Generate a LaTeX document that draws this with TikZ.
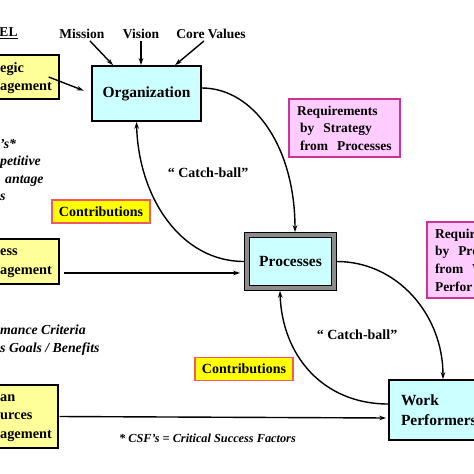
\documentclass[tikz,border=0pt]{standalone}
\usepackage{fontspec}
\setmainfont{Liberation Serif}
\usetikzlibrary{arrows.meta}
\definecolor{lcyan}{RGB}{204,255,255}
\definecolor{lyellow}{RGB}{255,255,153}
\definecolor{cyellow}{RGB}{255,255,0}
\definecolor{cred}{RGB}{240,90,90}
\definecolor{lpink}{RGB}{255,204,255}
\definecolor{dpink}{RGB}{204,51,153}
\begin{document}
\begin{tikzpicture}[x=1pt,y=-1pt, font=\bfseries,
    >={Stealth[length=7pt,width=4.5pt]},
    conn/.style={line width=1.4pt},
    mainbox/.style={draw, line width=1.6pt, fill=lcyan, inner sep=0pt},
    leftbox/.style={draw, line width=1.4pt, fill=lyellow, inner sep=0pt},
    contrib/.style={draw=cred, line width=1.3pt, fill=cyellow, minimum width=98pt, minimum height=23pt, font=\bfseries\fontsize{14}{16}\selectfont},
    reqbox/.style={draw=dpink, line width=1.6pt, fill=lpink, align=left, inner xsep=8pt, font=\bfseries\fontsize{13.5}{17.7}\selectfont},
    lefttxt/.style={align=left, inner sep=0pt, font=\bfseries\fontsize{14.3}{18.5}\selectfont},
    itxt/.style={align=left, inner sep=0pt, font=\bfseries\itshape\fontsize{13.8}{17.5}\selectfont},
    toptxt/.style={font=\bfseries\fontsize{13.5}{16}\selectfont, inner sep=2pt}]
  \useasboundingbox (0,0) rectangle (474,474);

  \node[toptxt] (model) at (8.5,33) {\underline{EL}};
  \node[toptxt] (mission) at (82,34) {Mission};
  \node[toptxt] (vision) at (141,34) {Vision};
  \node[toptxt] (core) at (211,34) {Core Values};

  \node[mainbox, minimum width=109pt, minimum height=55pt, font=\bfseries\fontsize{15.5}{18}\selectfont] (org) at (146.5,93.5) {Organization};
  \node[mainbox, draw=black, line width=1pt, double=black!45, double distance=3.5pt, outer sep=2.75pt,
    minimum width=87pt, minimum height=53pt, font=\bfseries\fontsize{15.5}{18}\selectfont] (proc) at (290.5,261.5) {Processes};
  \node[mainbox, minimum width=141pt, minimum height=60pt, align=left, text width=117pt,
    font=\bfseries\fontsize{15.5}{20}\selectfont] (work) at (459.5,410) {Work\\Performers};

  \node[leftbox, minimum width=89pt, minimum height=44pt] (strat) at (14.5,77) {};
  \node[lefttxt, anchor=west] (strattxt) at (0,78) {egic\\agement};
  \node[leftbox, minimum width=89pt, minimum height=45pt] (bus) at (14.5,261.5) {};
  \node[lefttxt, anchor=west] (bustxt) at (0,263) {ess\\agement};
  \node[leftbox, minimum width=88pt, minimum height=63pt] (hum) at (14,416.5) {};
  \node[lefttxt, anchor=west] (humtxt) at (0,418) {an\\urces\\agement};

  \node[reqbox, minimum width=111pt, minimum height=58pt, text width=95pt] (reqs) at (344.5,128) {Requirements\\[-0.5pt]\hspace*{3pt}by\ \ Strategy\\\hspace*{3pt}from\ \ Processes};
  \node[reqbox, minimum width=103pt, minimum height=76pt, text width=87pt] (reqp) at (478.5,260) {Requir\\by\ \ Pro\\from\ \ W\\Perfor};

  \node[contrib] (con1) at (101,211.5) {Contributions};
  \node[contrib] (con2) at (244,369) {Contributions};

  \node[font=\bfseries\fontsize{14}{16}\selectfont] (cb1) at (208,173) {“ Catch-ball”};
  \node[font=\bfseries\fontsize{14}{16}\selectfont] (cb2) at (357,335) {“ Catch-ball”};

  \node[itxt, anchor=west] (csfl) at (0,170) {’s*\\petitive\\\hspace*{5pt}antage\\s};
  \node[itxt, anchor=west] (perf) at (0,340) {mance Criteria\\s Goals / Benefits};
  \node[itxt, font=\bfseries\itshape\fontsize{12.3}{14}\selectfont] (csf) at (207.5,438) {* CSF’s = Critical Success Factors};

  \draw[conn,->] ([xshift=8pt]mission.south) -- ([xshift=-33.5pt]org.north);
  \draw[conn,->] (vision.south) -- ([xshift=-5.5pt]org.north);
  \draw[conn,->] ([xshift=-7pt]core.south) -- ([xshift=28.5pt]org.north);

  \draw[conn,->] ([xshift=-11pt]strat.east) -- (org.west) [shorten >=8pt];
  \draw[conn,->,shorten <=4pt,shorten >=4pt] ([yshift=-11.5pt]bus.east) -- ([yshift=-11.5pt]proc.west);
  \draw[conn,->,shorten <=1pt,shorten >=2pt] (hum.east) -- ([yshift=-8pt]work.west);

  \draw[conn,->] ([yshift=5.5pt]org.east) .. controls +(52,0) and +(0,-85) .. ([xshift=4.5pt]proc.north);
  \draw[conn,->] (proc.west) .. controls +(-64,0) and +(2,75) .. ([xshift=-10pt]org.south);
  \draw[conn,->] (proc.east) .. controls +(60,0) and +(0,-65) .. ([xshift=-16.5pt]work.north);
  \draw[conn,->] ([yshift=6pt]work.west) .. controls +(-65,0) and +(2,65) .. ([xshift=-10.5pt]proc.south);
\end{tikzpicture}
\end{document}
